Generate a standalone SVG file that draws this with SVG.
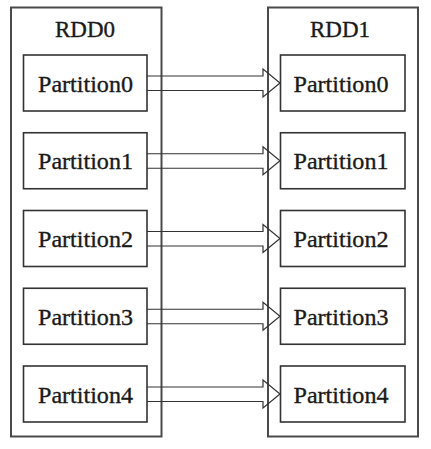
<svg xmlns="http://www.w3.org/2000/svg" width="431" height="449" viewBox="0 0 431 449">
<style>
.outer{fill:none;stroke:#4a4a4a;stroke-width:2}
.part{fill:#fff;stroke:#333;stroke-width:1.6}
.t{font-family:"Liberation Serif","DejaVu Serif",serif;fill:#1a1a1a;stroke:#1a1a1a;stroke-width:0.35;text-anchor:middle}
.title{font-size:23px}
.pt{font-size:24px}
.arr{fill:none;stroke:#333;stroke-width:1.2;stroke-linejoin:miter}
</style>
<rect width="431" height="449" fill="#fff"/>
<g id="rdd0">
<rect class="outer" x="11" y="7.5" width="150.5" height="429"/>
<text class="t title" x="85" y="37" textLength="60" lengthAdjust="spacingAndGlyphs">RDD0</text>
</g>
<g id="rdd1">
<rect class="outer" x="268" y="7.5" width="150" height="429"/>
<text class="t title" x="340" y="37" textLength="60" lengthAdjust="spacingAndGlyphs">RDD1</text>
</g>
<g id="connectors">
<path class="arr" d="M147,76 H263 V69 L280,83 L263,97 V90.5 H147"/>
<path class="arr" d="M147,153.75 H263 V146.75 L280,160.75 L263,174.75 V168.25 H147"/>
<path class="arr" d="M147,231.5 H263 V224.5 L280,238.5 L263,252.5 V246 H147"/>
<path class="arr" d="M147,309.25 H263 V302.25 L280,316.25 L263,330.25 V323.75 H147"/>
<path class="arr" d="M147,387 H263 V380 L280,394 L263,408 V401.5 H147"/>
</g>
<g id="l-p0"><rect class="part" x="23.5" y="55" width="123.5" height="56"/><text class="t pt" x="85.5" y="91.5" textLength="95" lengthAdjust="spacingAndGlyphs">Partition0</text></g>
<g id="l-p1"><rect class="part" x="23.5" y="132.75" width="123.5" height="56"/><text class="t pt" x="85.5" y="169.25" textLength="95" lengthAdjust="spacingAndGlyphs">Partition1</text></g>
<g id="l-p2"><rect class="part" x="23.5" y="210.5" width="123.5" height="56"/><text class="t pt" x="85.5" y="247" textLength="95" lengthAdjust="spacingAndGlyphs">Partition2</text></g>
<g id="l-p3"><rect class="part" x="23.5" y="288.25" width="123.5" height="56"/><text class="t pt" x="85.5" y="324.75" textLength="95" lengthAdjust="spacingAndGlyphs">Partition3</text></g>
<g id="l-p4"><rect class="part" x="23.5" y="366" width="123.5" height="56"/><text class="t pt" x="85.5" y="402.5" textLength="95" lengthAdjust="spacingAndGlyphs">Partition4</text></g>
<g id="r-p0"><rect class="part" x="280.5" y="55" width="124.5" height="56"/><text class="t pt" x="341" y="91.5" textLength="95" lengthAdjust="spacingAndGlyphs">Partition0</text></g>
<g id="r-p1"><rect class="part" x="280.5" y="132.75" width="124.5" height="56"/><text class="t pt" x="341" y="169.25" textLength="95" lengthAdjust="spacingAndGlyphs">Partition1</text></g>
<g id="r-p2"><rect class="part" x="280.5" y="210.5" width="124.5" height="56"/><text class="t pt" x="341" y="247" textLength="95" lengthAdjust="spacingAndGlyphs">Partition2</text></g>
<g id="r-p3"><rect class="part" x="280.5" y="288.25" width="124.5" height="56"/><text class="t pt" x="341" y="324.75" textLength="95" lengthAdjust="spacingAndGlyphs">Partition3</text></g>
<g id="r-p4"><rect class="part" x="280.5" y="366" width="124.5" height="56"/><text class="t pt" x="341" y="402.5" textLength="95" lengthAdjust="spacingAndGlyphs">Partition4</text></g>
</svg>
